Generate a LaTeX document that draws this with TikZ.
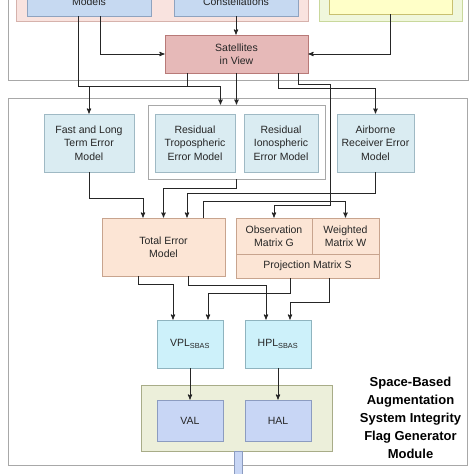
\documentclass[tikz,border=0pt]{standalone}
\usepackage{fontspec}
\setmainfont{Liberation Sans}
\usepackage{xcolor}
\definecolor{FrameGrey}{HTML}{A8A8A8}
\definecolor{OrbitPink}{HTML}{F9E3DF}
\definecolor{OrbitEdge}{HTML}{D6B2AC}
\definecolor{ModelBlue}{HTML}{C6D9F1}
\definecolor{ModelEdge}{HTML}{8FA3BF}
\definecolor{SideGreen}{HTML}{F0F7DC}
\definecolor{SideEdge}{HTML}{C9D89C}
\definecolor{PaleYellow}{HTML}{FFFFC8}
\definecolor{YellowEdge}{HTML}{C8C070}
\definecolor{SatRed}{HTML}{E6B9B8}
\definecolor{SatEdge}{HTML}{B87A78}
\definecolor{ErrBlue}{HTML}{DAECF2}
\definecolor{ErrEdge}{HTML}{9FB9C4}
\definecolor{Peach}{HTML}{FCE5D5}
\definecolor{PeachEdge}{HTML}{C8A48E}
\definecolor{LevelCyan}{HTML}{CDF1FA}
\definecolor{LevelEdge}{HTML}{8FB4BF}
\definecolor{FlagGreen}{HTML}{ECEFDA}
\definecolor{FlagEdge}{HTML}{A8AC88}
\definecolor{AlertBlue}{HTML}{C8D6F5}
\definecolor{AlertEdge}{HTML}{8C9CC0}
\usepackage{tikz}
\usetikzlibrary{arrows, positioning, calc}
\tikzstyle{box} = [rectangle, draw, text=black!85, text centered, align=center, line width=0.8pt, inner sep=1pt, font=\fontsize{10.5}{13.5}\selectfont]
\tikzstyle{group} = [rectangle, draw=FrameGrey, line width=0.8pt]
\tikzstyle{errbox} = [box, draw=ErrEdge, fill=ErrBlue, minimum height=58pt]
\tikzstyle{matbox} = [box, draw=PeachEdge, fill=Peach]
\tikzstyle{levelbox} = [box, draw=LevelEdge, fill=LevelCyan, minimum width=66pt, minimum height=48pt]
\tikzstyle{alertbox} = [box, draw=AlertEdge, fill=AlertBlue, minimum width=66pt, minimum height=41pt]
\tikzstyle{arrow} = [thick,->,>=stealth',color=black!85,line width=0.9pt]

\begin{document}
\begin{tikzpicture}[x=1pt, y=-1pt]
        \useasboundingbox (0,0) rectangle (474,474);
        \clip (0,0) rectangle (474,474);
        % Containers
        \node [group, fill=white, minimum width=460pt, minimum height=120pt] (topframe) at (238,20) {};
        \node [group, fill=white, minimum width=459pt, minimum height=367pt] (sbasframe) at (237.5,281.5) {};
        \node [box, draw=OrbitEdge, fill=OrbitPink, minimum width=292pt, minimum height=50pt] (orbit) at (162,-4) {};
        \node [box, draw=SideEdge, fill=SideGreen, minimum width=143pt, minimum height=50pt] (side) at (390.5,-4) {};

        % Sources
        \node [box, draw=ModelEdge, fill=ModelBlue, minimum width=124pt, minimum height=28pt] (models) at (89,2) {Models};
        \node [box, draw=ModelEdge, fill=ModelBlue, minimum width=124pt, minimum height=28pt] (const) at (236,2) {Constellations};
        \node [box, draw=YellowEdge, fill=PaleYellow, minimum width=123pt, minimum height=36pt] (yellow) at (390.5,-4) {};
        \node [box, draw=SatEdge, fill=SatRed, minimum width=143pt, minimum height=38pt] (sat) at (236.5,54) {Satellites\\in View};

        % Error models
        \node [errbox, minimum width=90pt] (fastlong) at (89,143) {Fast and Long\\Term Error\\Model};
        \node [group, fill=white, minimum width=177pt, minimum height=74pt] (resid) at (236.5,142) {};
        \node [errbox, minimum width=80pt] (tropo) at (195,143) {Residual\\Tropospheric\\Error Model};
        \node [errbox, minimum width=74pt] (iono) at (281,143) {Residual\\Ionospheric\\Error Model};
        \node [errbox, minimum width=77pt] (airborne) at (375.5,143) {Airborne\\Receiver Error\\Model};

        % Total error and matrices
        \node [matbox, minimum width=123pt, minimum height=58pt] (total) at (163.5,247) {Total Error\\Model};
        \node [matbox, minimum width=76pt, minimum height=36pt] (obs) at (274,236) {Observation\\Matrix G};
        \node [matbox, minimum width=67pt, minimum height=36pt] (wgt) at (345.5,236) {Weighted\\Matrix W};
        \node [matbox, minimum width=143pt, minimum height=24pt] (proj) at (307.5,266) {Projection Matrix S};

        % Protection and alert levels
        \node [levelbox] (vpl) at (190,344) {VPL\textsubscript{SBAS}};
        \node [levelbox] (hpl) at (278,344) {HPL\textsubscript{SBAS}};
        \node [box, draw=FlagEdge, fill=FlagGreen, minimum width=191pt, minimum height=66pt] (flag) at (236.5,418) {};
        \node [alertbox] (val) at (190,420.5) {VAL};
        \node [alertbox] (hal) at (278,420.5) {HAL};
        \node [box, draw=AlertEdge, fill=AlertBlue, minimum width=8pt, minimum height=30pt, anchor=north] (out) at ([xshift=1.5pt]flag.south) {};
        \node [align=center, text=black, font=\fontsize{13}{18}\selectfont\bfseries] (title) at (410.5,418) {Space-Based\\Augmentation\\System Integrity\\Flag Generator\\Module};

        % Bends
        \coordinate (obsbend) at (330,205);

        % Into satellites in view
        \draw [arrow] ([xshift=11pt]models.south) |- (sat.west);
        \draw [arrow] (const.south) -- (const.south |- sat.north);
        \draw [arrow] (yellow.south) |- (sat.east);

        % Out of satellites in view
        \draw [arrow] ([xshift=-11pt]models.south) -- ++(0,70) -| ([xshift=-16pt]resid.north);
        \draw [arrow] ([xshift=-49.5pt]sat.south) -- ++(0,13) -| (fastlong.north);
        \draw [arrow] (sat.south) -- (sat.south |- resid.north);
        \draw [arrow] ([xshift=41.5pt]sat.south) -- ++(0,15) -| (airborne.north);
        \draw [arrow] ([xshift=61.5pt]sat.south) -- ++(0,11) -| (obsbend) -| (obs.north);

        % Into total error model
        \draw [arrow] (fastlong.south) -- ++(0,26) -| ([xshift=-20.5pt]total.north);
        \draw [arrow] (resid.south) -- ++(0,9) -| (total.north);
        \draw [arrow] (airborne.south) -- ++(0,21) -| ([xshift=23.5pt]total.north);
        \draw [arrow] ([xshift=39.5pt]total.north) -- ++(0,-16) -| (wgt.north);

        % Into protection levels
        \draw [arrow] ([xshift=-25.5pt]total.south) -- ++(0,8) -| ([xshift=-17pt]vpl.north);
        \draw [arrow] ([xshift=24.5pt]total.south) -- ++(0,9) -| ([xshift=-12pt]hpl.north);
        \draw [arrow] ([xshift=-17.5pt]proj.south) -- ++(0,15) -| ([xshift=18pt]vpl.north);
        \draw [arrow] ([xshift=21.5pt]proj.south) -- ++(0,24) -| ([xshift=12pt]hpl.north);

        % Alert levels
        \draw [arrow] (vpl) -- (val);
        \draw [arrow] (hpl) -- (hal);
    \end{tikzpicture}
\end{document}
